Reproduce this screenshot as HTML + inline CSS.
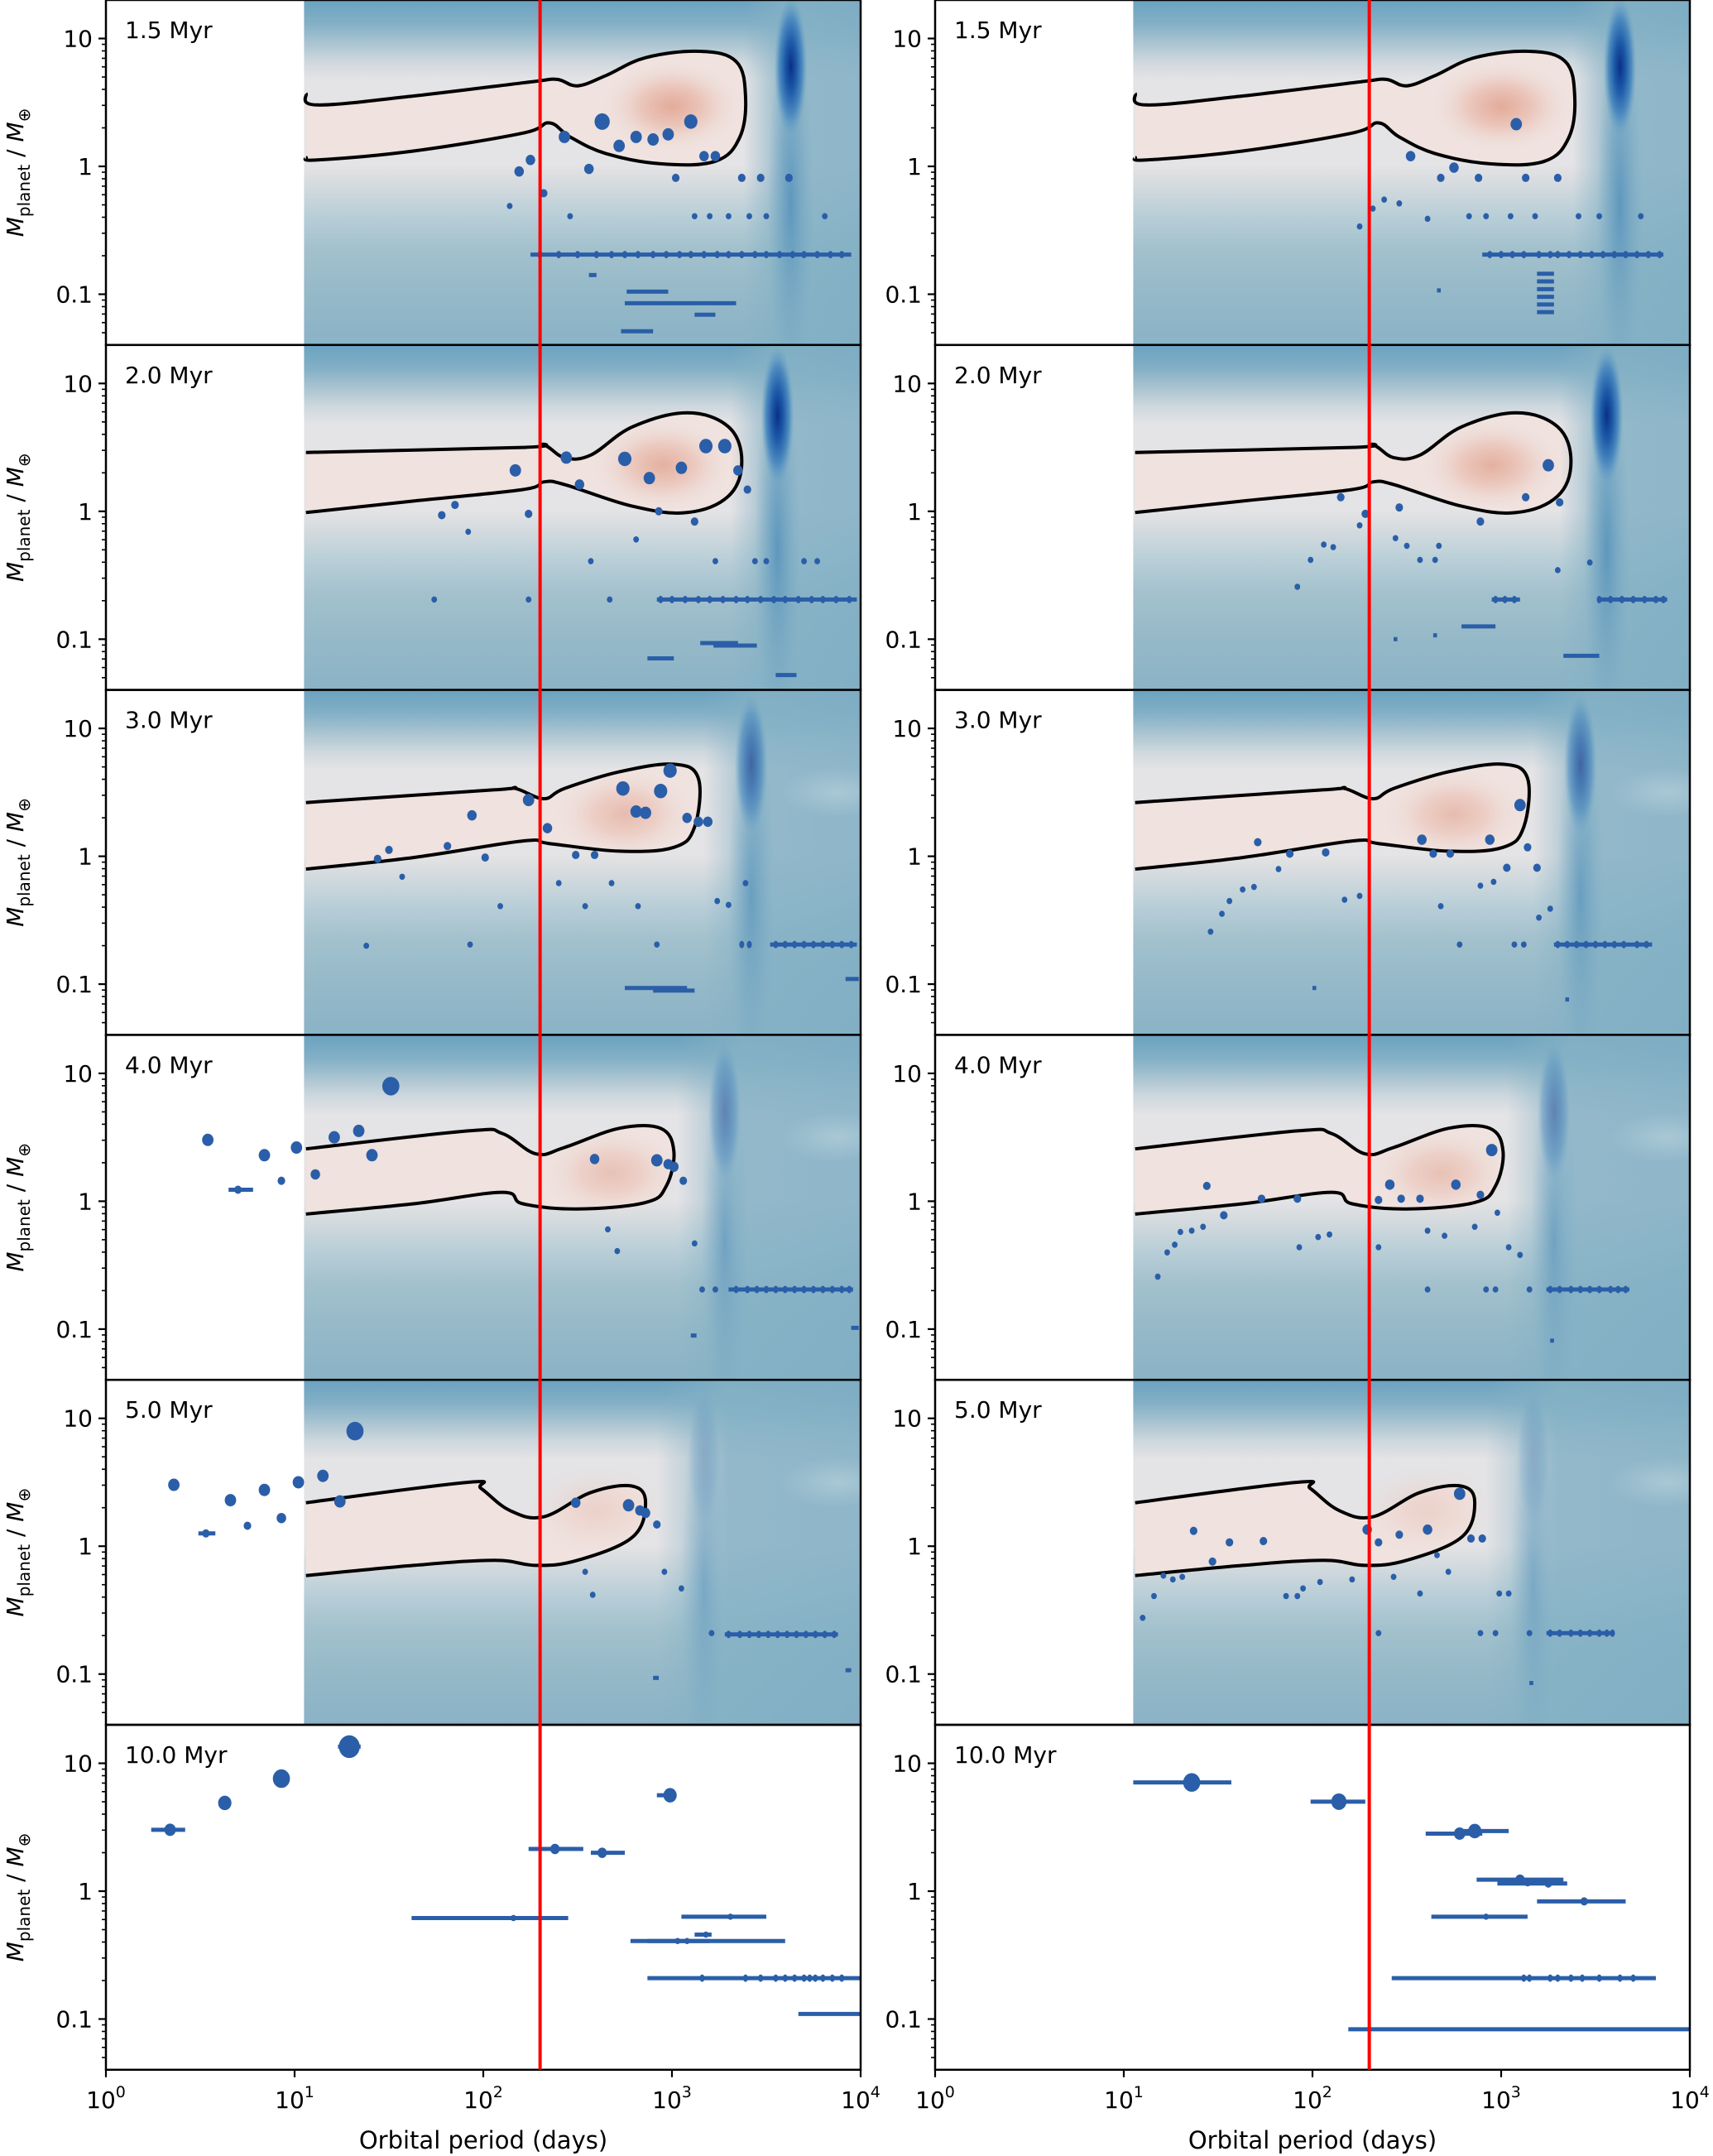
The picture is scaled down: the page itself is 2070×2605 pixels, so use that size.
<!DOCTYPE html>
<html><head><meta charset="utf-8">
<style>
html,body{margin:0;padding:0;background:#fff;}
svg{display:block;font-family:"DejaVu Sans","Liberation Sans",sans-serif;}
</style></head>
<body>
<svg id="fig" width="2070" height="2605" viewBox="0 0 2070 2605" xmlns="http://www.w3.org/2000/svg">
<defs>
<linearGradient id="bgGrad" x1="0" y1="0" x2="0" y2="1">
<stop offset="0" stop-color="#6aa2c0"/><stop offset="0.07" stop-color="#84b0c6"/>
<stop offset="0.13" stop-color="#adc6d2"/><stop offset="0.18" stop-color="#cfd8de"/>
<stop offset="0.23" stop-color="#e4e3e5"/><stop offset="0.48" stop-color="#e4e3e5"/>
<stop offset="0.54" stop-color="#d3dade"/><stop offset="0.62" stop-color="#bacfd8"/>
<stop offset="0.72" stop-color="#a3c1cd"/><stop offset="0.85" stop-color="#95b9c8"/>
<stop offset="1" stop-color="#8ab3c6"/></linearGradient>
<linearGradient id="rightFade" x1="0" y1="0" x2="1" y2="0">
<stop offset="0" stop-color="#84b1c5" stop-opacity="0"/><stop offset="0.35" stop-color="#84b1c5" stop-opacity="1"/><stop offset="1" stop-color="#80aec4" stop-opacity="1"/></linearGradient>
<radialGradient id="spikeGrad"><stop offset="0" stop-color="#0a2f86"/><stop offset="0.35" stop-color="#1d5aa8"/><stop offset="0.7" stop-color="#4f8cc0"/><stop offset="1" stop-color="#6fa5c6" stop-opacity="0"/></radialGradient>
<radialGradient id="tailGrad"><stop offset="0" stop-color="#5e97bd"/><stop offset="1" stop-color="#7aaac4" stop-opacity="0"/></radialGradient>
<radialGradient id="blobGrad"><stop offset="0" stop-color="#e3ab9a"/><stop offset="0.45" stop-color="#ebc6bb"/><stop offset="1" stop-color="#efe0dc" stop-opacity="0"/></radialGradient>
<radialGradient id="patchGrad"><stop offset="0" stop-color="#a9c8d5"/><stop offset="1" stop-color="#a9c8d5" stop-opacity="0"/></radialGradient>
</defs>
</svg>
<script>
// ---------- data (log10 period [days], log10 mass [Earth masses], marker size) ----------
const ages = ["1.5 Myr","2.0 Myr","3.0 Myr","4.0 Myr","5.0 Myr","10.0 Myr"];
const xTickLabels = ["0","1","2","3","4"];
const yTickValues = [10, 1, 0.1];
const yTickLabels = ["10","1","0.1"];
const cutoffPeriod = 200;

const ptsL1 = [[2.63,0.35,8],[2.43,0.23,6],[2.81,0.23,6],[2.90,0.21,6],[2.98,0.25,6],[3.10,0.35,7],[2.72,0.16,6],[2.25,0.05,5],[2.19,-0.04,5],[2.56,-0.02,5],[3.17,0.08,5],[3.23,0.08,5],[3.02,-0.09,4],[3.37,-0.09,4],[3.47,-0.09,4],[3.62,-0.09,4],[2.32,-0.21,4],[2.14,-0.31,3],[2.46,-0.39,3],[3.12,-0.39,3],[3.20,-0.39,3],[3.30,-0.39,3],[3.41,-0.39,3],[3.50,-0.39,3],[3.81,-0.39,3]];
const rowL1 = [-0.69,[2.3,2.4,2.5,2.6,2.68,2.75,2.82,2.9,2.97,3.04,3.1,3.17,3.24,3.3,3.37,3.44,3.5,3.57,3.64,3.7,3.77,3.84,3.9],[2.25,3.95]];
const errL1 = [[2.56,2.60,-0.85],[2.76,2.98,-0.98],[2.75,3.34,-1.07],[3.12,3.23,-1.16],[2.73,2.90,-1.29]];

const ptsR1 = [[3.08,0.33,6],[2.52,0.08,5],[2.75,-0.01,5],[2.68,-0.09,4],[2.88,-0.09,4],[3.13,-0.09,4],[3.30,-0.09,4],[2.38,-0.26,3],[2.46,-0.29,3],[2.32,-0.33,3],[2.61,-0.41,3],[2.83,-0.39,3],[2.92,-0.39,3],[3.05,-0.39,3],[3.18,-0.39,3],[3.41,-0.39,3],[3.52,-0.39,3],[3.74,-0.39,3],[2.25,-0.47,3]];
const rowR1 = [-0.69,[2.94,3.0,3.06,3.12,3.2,3.26,3.3,3.36,3.42,3.48,3.54,3.6,3.66,3.72,3.78,3.84],[2.9,3.86]];
const errR1 = [[2.66,2.68,-0.97],[3.19,3.28,-0.84],[3.19,3.28,-0.90],[3.19,3.28,-0.96],[3.19,3.28,-1.02],[3.19,3.28,-1.08],[3.19,3.28,-1.14]];

const ptsL2 = [[2.44,0.42,6],[2.17,0.32,6],[2.75,0.41,7],[3.05,0.34,6],[2.88,0.26,6],[3.18,0.51,7],[3.28,0.51,7],[2.51,0.21,5],[3.35,0.32,5],[3.40,0.17,4],[1.78,-0.03,4],[1.85,0.05,4],[1.92,-0.16,3],[2.24,-0.02,4],[2.93,0.0,4],[3.12,-0.08,4],[2.81,-0.22,3],[2.57,-0.39,3],[3.23,-0.39,3],[3.44,-0.39,3],[3.50,-0.39,3],[3.70,-0.39,3],[3.77,-0.39,3],[1.74,-0.69,3],[2.24,-0.69,3],[2.67,-0.69,3]];
const rowL2 = [-0.69,[2.94,3.0,3.07,3.14,3.2,3.27,3.34,3.4,3.47,3.54,3.6,3.67,3.74,3.8,3.87,3.94],[2.92,3.98]];
const errL2 = [[3.15,3.35,-1.03],[3.22,3.45,-1.05],[2.87,3.01,-1.15],[3.55,3.66,-1.28]];

const ptsR2 = [[3.25,0.36,6],[2.15,0.11,4],[3.13,0.11,4],[2.46,0.03,4],[2.28,-0.02,4],[2.89,-0.08,4],[3.31,0.07,4],[2.25,-0.11,3],[2.06,-0.26,3],[2.11,-0.28,3],[1.99,-0.38,3],[1.92,-0.59,3],[2.57,-0.38,3],[2.65,-0.38,3],[2.67,-0.27,3],[2.44,-0.21,3],[2.50,-0.27,3],[3.30,-0.46,3],[3.47,-0.40,3]];
const rowR2 = [-0.69,[2.97,3.02,3.07,3.52,3.58,3.64,3.7,3.76,3.82,3.86],[2.95,3.1]];
const errR2 = [[2.43,2.45,-1.0],[2.64,2.66,-0.97],[2.79,2.97,-0.9],[3.33,3.52,-1.13],[3.52,3.88,-0.69]];

const ptsL3 = [[2.99,0.67,7],[2.74,0.53,7],[2.94,0.51,7],[2.24,0.44,6],[2.81,0.35,6],[2.86,0.34,6],[1.94,0.32,5],[3.08,0.30,5],[3.14,0.27,5],[3.19,0.27,5],[2.34,0.22,5],[1.81,0.08,4],[1.50,0.05,4],[1.44,-0.02,4],[2.01,-0.01,4],[2.49,0.01,4],[2.59,0.01,4],[1.57,-0.16,3],[2.40,-0.21,3],[2.68,-0.21,3],[3.39,-0.21,3],[2.09,-0.39,3],[2.54,-0.39,3],[2.82,-0.39,3],[3.24,-0.35,3],[3.30,-0.38,3],[1.38,-0.70,3],[1.93,-0.69,3],[2.92,-0.69,3]];
const rowL3 = [-0.69,[3.37,3.41,3.55,3.6,3.65,3.7,3.75,3.8,3.85,3.9,3.95],[3.52,3.98]];
const errL3 = [[2.75,3.08,-1.03],[2.90,3.12,-1.05],[3.92,3.99,-0.96]];

const ptsR3 = [[3.10,0.40,6],[2.58,0.13,5],[2.94,0.13,5],[1.71,0.11,4],[2.64,0.02,4],[2.73,0.02,4],[2.07,0.03,4],[1.88,0.02,4],[3.14,0.07,4],[3.03,-0.09,4],[3.19,-0.09,4],[1.82,-0.10,3],[2.96,-0.20,3],[1.63,-0.26,3],[1.69,-0.24,3],[1.56,-0.35,3],[1.52,-0.45,3],[2.89,-0.23,3],[2.17,-0.34,3],[2.25,-0.31,3],[2.68,-0.39,3],[3.26,-0.41,3],[3.20,-0.48,3],[1.46,-0.59,3],[2.78,-0.69,3],[3.07,-0.69,3],[3.12,-0.69,3]];
const rowR3 = [-0.69,[3.30,3.35,3.40,3.45,3.50,3.55,3.60,3.65,3.72,3.77],[3.28,3.8]];
const errR3 = [[2.00,2.02,-1.03],[3.34,3.36,-1.12]];

const ptsL4 = [[1.51,0.90,9],[0.54,0.48,6],[1.21,0.50,6],[1.34,0.55,6],[1.01,0.42,6],[0.84,0.36,6],[1.41,0.36,6],[1.11,0.21,5],[0.93,0.16,4],[0.70,0.09,4],[2.59,0.33,5],[2.92,0.32,6],[2.98,0.29,5],[3.01,0.27,5],[3.06,0.16,4],[2.66,-0.22,3],[2.71,-0.39,3],[3.12,-0.33,3],[3.16,-0.69,3],[3.23,-0.69,3]];
const rowL4 = [-0.69,[3.34,3.40,3.45,3.50,3.55,3.60,3.65,3.70,3.75,3.80,3.85,3.90,3.94],[3.3,3.96]];
const errL4 = [[0.65,0.78,0.09],[3.10,3.13,-1.05],[3.95,3.99,-0.99]];

const ptsR4 = [[2.95,0.40,6],[2.41,0.13,5],[2.76,0.13,5],[1.44,0.12,4],[2.47,0.02,4],[2.57,0.02,4],[2.35,0.01,4],[2.89,0.05,4],[1.53,-0.11,4],[1.73,0.02,4],[1.92,0.02,4],[2.98,-0.09,3],[1.30,-0.24,3],[1.36,-0.23,3],[1.42,-0.20,3],[1.27,-0.34,3],[1.23,-0.40,3],[1.18,-0.59,3],[2.86,-0.20,3],[2.61,-0.23,3],[2.70,-0.27,3],[2.03,-0.28,3],[2.09,-0.26,3],[1.93,-0.36,3],[2.35,-0.36,3],[3.04,-0.36,3],[3.10,-0.42,3],[2.61,-0.69,3],[2.92,-0.69,3],[2.97,-0.69,3],[3.15,-0.69,3]];
const rowR4 = [-0.69,[3.26,3.31,3.37,3.42,3.47,3.52,3.58,3.62,3.66],[3.24,3.68]];
const errR4 = [[3.26,3.28,-1.09]];

const ptsL5 = [[1.32,0.90,9],[0.36,0.48,6],[1.02,0.50,6],[1.15,0.55,6],[0.84,0.44,6],[0.66,0.36,6],[1.24,0.35,6],[0.93,0.22,5],[0.75,0.16,4],[0.53,0.10,4],[2.49,0.34,5],[2.77,0.32,6],[2.83,0.28,5],[2.86,0.26,5],[2.92,0.17,4],[2.54,-0.20,3],[2.58,-0.38,3],[2.96,-0.20,3],[3.05,-0.33,3],[3.21,-0.68,3]];
const rowL5 = [-0.69,[3.30,3.36,3.41,3.46,3.51,3.56,3.61,3.66,3.71,3.76,3.81,3.86],[3.28,3.88]];
const errL5 = [[0.49,0.58,0.10],[2.90,2.93,-1.03],[3.92,3.95,-0.97]];

const ptsR5 = [[2.78,0.41,6],[2.29,0.13,5],[2.61,0.13,5],[1.37,0.12,4],[2.35,0.03,4],[2.46,0.09,4],[1.74,0.04,4],[1.56,0.03,4],[2.84,0.06,4],[2.90,0.06,4],[1.47,-0.12,4],[2.66,-0.07,3],[1.21,-0.23,3],[1.26,-0.26,3],[1.31,-0.24,3],[2.21,-0.26,3],[2.43,-0.24,3],[2.72,-0.20,3],[1.16,-0.39,3],[1.86,-0.39,3],[1.92,-0.39,3],[1.95,-0.33,3],[2.04,-0.28,3],[2.57,-0.37,3],[2.99,-0.37,3],[3.04,-0.37,3],[1.10,-0.56,3],[2.35,-0.68,3],[2.89,-0.68,3],[2.97,-0.68,3],[3.15,-0.68,3]];
const rowR5 = [-0.68,[3.26,3.31,3.37,3.42,3.47,3.52,3.56,3.59],[3.24,3.6]];
const errR5 = [[3.15,3.17,-1.07]];

const ptsL6 = [[1.29,1.13,11],[0.93,0.88,9],[0.63,0.69,7],[0.34,0.48,6],[2.99,0.75,7],[2.38,0.33,5],[2.63,0.30,5],[2.16,-0.21,3],[3.31,-0.20,3],[3.18,-0.34,3],[3.08,-0.39,3],[3.03,-0.39,3]];
const rowL6 = [-0.68,[3.16,3.39,3.47,3.55,3.60,3.65,3.70,3.73,3.76,3.80,3.85,3.90],[2.87,4.0]];
const errL6 = [[1.23,1.35,1.13],[0.24,0.42,0.48],[2.92,3.00,0.75],[2.24,2.53,0.33],[2.57,2.75,0.30],[1.62,2.45,-0.21],[3.05,3.50,-0.20],[3.12,3.21,-0.34],[2.78,3.60,-0.39],[2.87,3.20,-0.39],[3.67,4.0,-0.96]];

const ptsR6 = [[1.36,0.85,9],[2.14,0.70,8],[2.86,0.47,7],[2.78,0.45,6],[3.10,0.09,5],[3.14,0.07,4],[3.25,0.06,4],[3.44,-0.08,4],[2.92,-0.20,3]];
const rowR6 = [-0.68,[3.12,3.15,3.26,3.30,3.37,3.43,3.52,3.63,3.70],[2.42,3.82]];
const errR6 = [[1.05,1.57,0.85],[1.99,2.28,0.70],[2.79,3.04,0.47],[2.60,2.90,0.45],[2.87,3.33,0.09],[2.98,3.35,0.06],[3.19,3.66,-0.08],[2.63,3.14,-0.20],[2.19,4.0,-1.08]];

// model contours (log10 P, log10 M) per age
const contour1 = [[1.06,0.57],[1.12,0.48],[1.63,0.55],[2.25,0.66],[2.39,0.68],[2.50,0.63],[2.65,0.71],[2.86,0.85],[3.15,0.90],[3.34,0.82],[3.39,0.55],[3.36,0.23],[3.23,0.04],[2.94,0.02],[2.65,0.10],[2.46,0.23],[2.35,0.34],[2.21,0.26],[1.63,0.12],[1.12,0.05],[1.06,0.07]];
const contour2 = [[1.06,0.46],[2.21,0.50],[2.32,0.52],[2.43,0.42],[2.57,0.44],[2.79,0.66],[3.08,0.77],[3.30,0.66],[3.37,0.39],[3.30,0.12],[3.08,-0.01],[2.79,0.04],[2.43,0.21],[2.32,0.23],[2.21,0.17],[1.63,0.08],[1.06,-0.01]];
const contour3 = [[1.06,0.42],[2.06,0.52],[2.17,0.53],[2.32,0.45],[2.43,0.53],[2.72,0.66],[3.01,0.72],[3.14,0.61],[3.12,0.23],[3.01,0.07],[2.72,0.04],[2.35,0.10],[2.21,0.12],[1.63,-0.01],[1.06,-0.10]];
const contour4 = [[1.06,0.41],[1.92,0.55],[2.10,0.53],[2.28,0.37],[2.43,0.42],[2.72,0.57],[2.94,0.57],[3.01,0.39],[2.97,0.12],[2.86,-0.01],[2.50,-0.06],[2.21,-0.02],[2.10,0.07],[1.63,-0.02],[1.06,-0.10]];
const contour5 = [[1.06,0.34],[1.92,0.50],[1.99,0.45],[2.14,0.28],[2.32,0.23],[2.57,0.42],[2.79,0.47],[2.86,0.34],[2.79,0.07],[2.50,-0.11],[2.28,-0.15],[2.06,-0.11],[1.63,-0.15],[1.06,-0.23]];
const spikes = [[3.63,0.78,1.0],[3.56,0.75,1.0],[3.42,0.72,0.6],[3.28,0.70,0.4],[3.17,0.70,0.15]];
const blobs = [[3.0,0.47,1.0],[2.95,0.36,0.9],[2.75,0.33,0.7],[2.68,0.22,0.6],[2.6,0.28,0.3]];
const modelMinLogP = 1.05;

// ---------- layout ----------
const svg = document.getElementById('fig');
const NS = 'http://www.w3.org/2000/svg';
const colX = [128, 1130], PW = 912, PH = 416.8, decX = PW/4;
const yTop = 1.301, decY = 154.5;
function mk(tag, parent){ const e = document.createElementNS(NS, tag); parent.appendChild(e); return e; }
function set(e, o){ for (const k in o) e.setAttribute(k, o[k]); return e; }
function xS(c, lp){ return colX[c] + lp*decX; }
function yS(r, lm){ return r*PH + (yTop - lm)*decY; }
function smooth(P){
  let d = 'M'+P[0][0].toFixed(1)+' '+P[0][1].toFixed(1);
  for (let i=0;i<P.length-1;i++){
    const p0=P[Math.max(0,i-1)], p1=P[i], p2=P[i+1], p3=P[Math.min(P.length-1,i+2)];
    const t=0.18;
    const c1=[p1[0]+(p2[0]-p0[0])*t, p1[1]+(p2[1]-p0[1])*t];
    const c2=[p2[0]-(p3[0]-p1[0])*t, p2[1]-(p3[1]-p1[1])*t];
    d+=' C'+c1[0].toFixed(1)+' '+c1[1].toFixed(1)+' '+c2[0].toFixed(1)+' '+c2[1].toFixed(1)+' '+p2[0].toFixed(1)+' '+p2[1].toFixed(1);
  }
  return d;
}

const panels = [
 [ptsL1,rowL1,errL1],[ptsR1,rowR1,errR1],[ptsL2,rowL2,errL2],[ptsR2,rowR2,errR2],
 [ptsL3,rowL3,errL3],[ptsR3,rowR3,errR3],[ptsL4,rowL4,errL4],[ptsR4,rowR4,errR4],
 [ptsL5,rowL5,errL5],[ptsR5,rowR5,errR5],[ptsL6,rowL6,errL6],[ptsR6,rowR6,errR6]];
const contours = [contour1,contour2,contour3,contour4,contour5];
const BLUE = '#2a5ea8';

for (let r = 0; r < 6; r++) for (let c = 0; c < 2; c++) {
  const [pts, row, errs] = panels[r*2+c];
  const x0 = colX[c], y0 = r*PH;
  const g = mk('g', svg);
  
  
  const cp = mk('clipPath', g); cp.id = 'clip'+r+c;
  set(mk('rect', cp), {x:x0, y:y0, width:PW, height:PH});
  const inner = mk('g', g); inner.setAttribute('clip-path', 'url(#clip'+r+c+')');

  if (r < 5) {
    const bg = mk('g', inner);
    
    
    const mx = xS(c, modelMinLogP);
    set(mk('rect', bg), {x:mx, y:y0, width:x0+PW-mx, height:PH, fill:'url(#bgGrad)'});
    const cont = contours[r];
    const dpath = smooth(cont.map(p=>[xS(c,p[0]), yS(r,p[1])]));
    set(mk('path', bg), {d:dpath+' Z', fill:'#efe2df'});
    const sp = spikes[r];
    set(mk('rect', bg), {x:xS(c,sp[0]-0.25), y:y0, width:x0+PW-xS(c,sp[0]-0.25), height:PH, fill:'url(#rightFade)', opacity:0.85});
    if (r >= 2) set(mk('ellipse', bg), {cx:xS(c,3.88), cy:yS(r,0.5), rx:70, ry:30, fill:'url(#patchGrad)'});
    set(mk('ellipse', bg), {cx:xS(c,sp[0]), cy:yS(r,-0.3), rx:28, ry:230, fill:'url(#tailGrad)', opacity:0.5+0.5*sp[2]});
    const bl = blobs[r];
    set(mk('ellipse', bg), {cx:xS(c,bl[0]), cy:yS(r,bl[1]), rx:85, ry:55, fill:'url(#blobGrad)', opacity:bl[2]});
    const spk = mk('ellipse', bg);
    set(spk, {cx:xS(c,sp[0]), cy:yS(r,sp[1]), rx:20, ry:85, fill:'url(#spikeGrad)', opacity:sp[2]});
    
    
    const cl = mk('path', inner);
    set(cl, {d:dpath, fill:'none', stroke:'#000', 'stroke-width':4, 'stroke-linejoin':'round'});
    
    
  }

  for (const e of errs) {
    const l = mk('line', inner);
    set(l, {x1:xS(c,e[0]), x2:xS(c,e[1]), y1:yS(r,e[2]), y2:yS(r,e[2]), stroke:BLUE, 'stroke-width':5});
    
    
  }
  const rl = mk('line', inner);
  set(rl, {x1:xS(c,row[2][0]), x2:xS(c,row[2][1]), y1:yS(r,row[0]), y2:yS(r,row[0]), stroke:BLUE, 'stroke-width':5});
  
  
  for (const lp of row[1]) {
    const d = mk('ellipse', inner);
    set(d, {cx:xS(c,lp), cy:yS(r,row[0]), rx:3, ry:4.5, fill:BLUE});
    
    
  }
  for (const p of pts) {
    const d = mk('ellipse', inner);
    set(d, {cx:xS(c,p[0]), cy:yS(r,p[1]), rx:p[2]*1.15, ry:p[2]*1.25, fill:BLUE});
    
    
  }
  set(mk('rect', g), {x:x0, y:y0, width:PW, height:PH, fill:'none', stroke:'#000', 'stroke-width':2.5});

  for (let dec = -2; dec <= 1; dec++) for (let m = 1; m <= 9; m++) {
    const lm = dec + Math.log10(m);
    if (lm < -1.395 || lm > 1.301) continue;
    const y = yS(r, lm);
    set(mk('line', g), {x1:x0-(m===1?9:5), x2:x0, y1:y, y2:y, stroke:'#000', 'stroke-width':m===1?2.2:1.6});
  }
  yTickValues.forEach((v,i)=>{
    const t = mk('text', g);
    set(t, {x:x0-16, y:yS(r,Math.log10(v))+10, 'text-anchor':'end', 'font-size':28, fill:'#000'});
    t.textContent = yTickLabels[i];
    
    
  });
  const at = mk('text', g);
  set(at, {x:x0+23, y:y0+46, 'font-size':28, fill:'#000'});
  at.textContent = ages[r];
  
  

  if (c === 0) {
    const yl = mk('text', g);
    const cy = y0 + PH/2;
    set(yl, {x:0, y:0, transform:'translate(28,'+cy+') rotate(-90)', 'text-anchor':'middle', 'font-size':28, fill:'#000'});
    yl.innerHTML = '<tspan font-style="italic">M</tspan><tspan font-size="20" dy="8">planet</tspan><tspan dy="-8"> / </tspan><tspan font-style="italic">M</tspan><tspan font-size="20" dy="8">⊕</tspan>';
    
    
  }
  if (r === 5) {
    xTickLabels.forEach((lab,i)=>{
      const x = xS(c, i);
      set(mk('line', g), {x1:x, x2:x, y1:y0+PH, y2:y0+PH+9, stroke:'#000', 'stroke-width':2.2});
      const t = mk('text', g);
      set(t, {x:x, y:y0+PH+46, 'text-anchor':'middle', 'font-size':28, fill:'#000'});
      t.innerHTML = '10<tspan font-size="19" dy="-13">'+lab+'</tspan>';
      
      
    });
    const xt = mk('text', g);
    set(xt, {x:x0+PW/2, y:2596, 'text-anchor':'middle', 'font-size':29, fill:'#000'});
    xt.textContent = 'Orbital period (days)';
    
    
  }
}
for (let c = 0; c < 2; c++) {
  const x = xS(c, Math.log10(cutoffPeriod));
  const l = mk('line', svg);
  set(l, {x1:x, x2:x, y1:0, y2:6*PH, stroke:'#ff0000', 'stroke-width':4});
  
  
}
</script>
</body></html>
